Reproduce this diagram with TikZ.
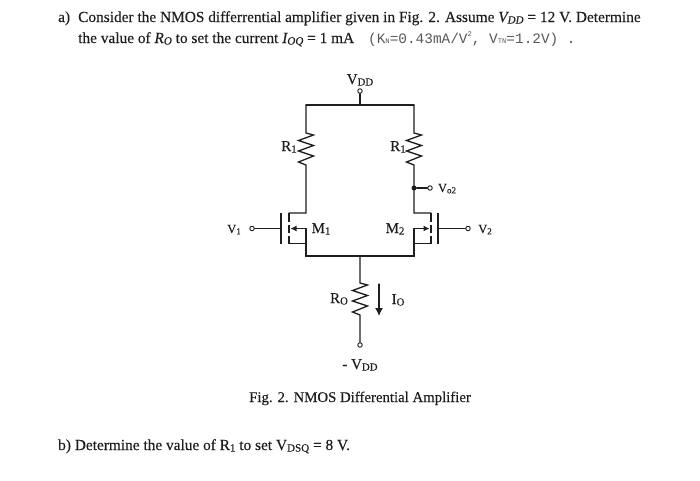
\documentclass[tikz,border=0pt]{standalone}
\usepackage{fontspec}
\setmainfont{Liberation Serif}[FakeBold=0.2]
\setmonofont{Liberation Mono}
\usetikzlibrary{arrows.meta}
\definecolor{ink}{HTML}{1E1E1E}
\definecolor{monoink}{HTML}{5A5A5A}
\newcommand{\lowsub}[1]{\raisebox{-0.22ex}{\scalebox{0.72}{#1}}}
\newcommand{\tinysub}[1]{\raisebox{-0.1ex}{\scalebox{0.5}{#1}}}
\newcommand{\tinysup}[1]{\raisebox{0.9ex}{\scalebox{0.5}{#1}}}
\newcommand{\zigzagres}{-- ++(7.5,2) -- ++(-15,5.5) -- ++(15,5) -- ++(-15,5.5) -- ++(15,5) -- ++(-15,6) -- ++(7.5,3)}
\tikzset{
  wire/.style={draw=ink,line width=1.3pt,line cap=round,line join=miter},
  plate/.style={draw=ink,line width=1.6pt},
  term/.style={circle,draw=ink,line width=0.9pt,fill=white,inner sep=0pt,minimum size=4.5pt},
  junc/.style={circle,fill=ink,inner sep=0pt,minimum size=5pt},
  txt/.style={text=ink,inner sep=0pt,anchor=base west,font=\fontsize{15.35}{18}\selectfont},
  lab/.style={text=ink,inner sep=0pt,anchor=base,font=\fontsize{15}{17}\selectfont},
  smalllab/.style={text=ink,inner sep=0pt,anchor=base,font=\fontsize{12.5}{15}\selectfont},
  sarrow/.style={-{Latex[length=6pt,width=6pt]}}
}
\begin{document}
\begin{tikzpicture}[x=1pt,y=-1pt]
\useasboundingbox (0,0) rectangle (700,480);
\fill[white] (0,0) rectangle (700,480);
% paragraph text
\node[txt] (tA) at (58,22) {a)};
\node[txt] (tB) at (78,22) {Consider the NMOS differrential amplifier given in Fig. 2. Assume \textit{V\lowsub{DD}} = 12 V. Determine};
\node[txt] (tC) at (78,43) {the value of \textit{R\lowsub{O}} to set the current \textit{I\lowsub{OQ}} = 1 mA};
\node[text=monoink,inner sep=0pt,anchor=base west,font=\ttfamily\fontsize{14.4}{16}\selectfont] (tD) at (368,43) {(K\tinysub{N}=0.43mA/V\tinysup{2}, V\tinysub{TN}=1.2V) .};
\node[txt,font=\fontsize{14.8}{18}\selectfont] (tE) at (249,402) {Fig. 2. NMOS Differential Amplifier};
\node[txt] (tF) at (58,450) {b) Determine the value of R\lowsub{1} to set V\lowsub{DSQ} = 8 V.};
% coordinates
\node[term] (vdd) at (360,91) {};
\coordinate (top) at (360,105);
\coordinate (tl) at (306,105);
\coordinate (tr) at (414,105);
\coordinate (rlt) at (306,133);
\coordinate (rrt) at (414,133);
\coordinate (dl) at (306,213);
\coordinate (dr) at (414,213);
\coordinate (cdl) at (289,213);
\coordinate (cdr) at (431,213);
\coordinate (csl) at (289,243.5);
\coordinate (csr) at (431,243.5);
\coordinate (sl) at (306,243.5);
\coordinate (sr) at (414,243.5);
\coordinate (bl) at (306,256);
\coordinate (br) at (414,256);
\coordinate (bm) at (360,256);
\coordinate (rot) at (360,283);
\node[term] (vss) at (360,345) {};
\node[junc] (jo) at (414,188) {};
\node[term] (vo) at (430,188) {};
\node[term] (v1) at (252,228.5) {};
\node[term] (v2) at (468,228.5) {};
% supply rail and resistors
\draw[wire] (vdd) -- (top);
\draw[wire] (tl) -- (tr);
\draw[wire] (tl) -- (rlt) \zigzagres -- (dl) -- (cdl);
\draw[wire] (tr) -- (rrt) \zigzagres -- (dr) -- (cdr);
\draw[wire] (jo) -- (vo);
% channels
\draw[plate] (cdl) -- ++(0,9);
\draw[plate] (289,224.5) -- (289,232.5);
\draw[plate] (csl) -- ++(0,-8);
\draw[plate] (cdr) -- ++(0,9);
\draw[plate] (431,224.5) -- (431,232.5);
\draw[plate] (csr) -- ++(0,-8);
% gates
\coordinate (gl) at (281,228.5);
\coordinate (gr) at (438,228.5);
\draw[plate] (281,213) -- (281,243.5);
\draw[plate] (438,213) -- (438,243.5);
\draw[wire] (v1) -- (gl);
\draw[wire] (gr) -- (v2);
% sources
\coordinate (al) at (306,228.5);
\coordinate (ar) at (414,228.5);
\draw[wire,sarrow] (al) -- (290.5,228.5);
\draw[wire,sarrow] (ar) -- (429.5,228.5);
\draw[wire] (csl) -- (sl);
\draw[wire] (csr) -- (sr);
\draw[wire] (al) -- (bl) -- (br) -- (ar);
% tail
\draw[wire] (bm) -- (rot) \zigzagres -- (vss);
\coordinate (ia) at (379,284);
\coordinate (ib) at (379,316);
\draw[wire,-{Latex[length=8pt,width=8pt]}] (ia) -- (ib);
% labels
\node[lab] (lvdd) at (360,84) {V\lowsub{DD}};
\node[lab] (lr1) at (289,151) {R\lowsub{1}};
\node[lab] (lr2) at (398,151) {R\lowsub{1}};
\node[smalllab] (lvo) at (447,192) {V\lowsub{o2}};
\node[smalllab] (lv1) at (234,233) {V\lowsub{1}};
\node[smalllab] (lv2) at (485,233) {V\lowsub{2}};
\node[lab] (lm1) at (321,233) {M\lowsub{1}};
\node[lab] (lm2) at (395,233) {M\lowsub{2}};
\node[lab] (lro) at (339,303) {R\lowsub{O}};
\node[lab] (lio) at (398,304) {I\lowsub{O}};
\node[lab] (lvss) at (360,369) {- V\lowsub{DD}};
\end{tikzpicture}
\end{document}
